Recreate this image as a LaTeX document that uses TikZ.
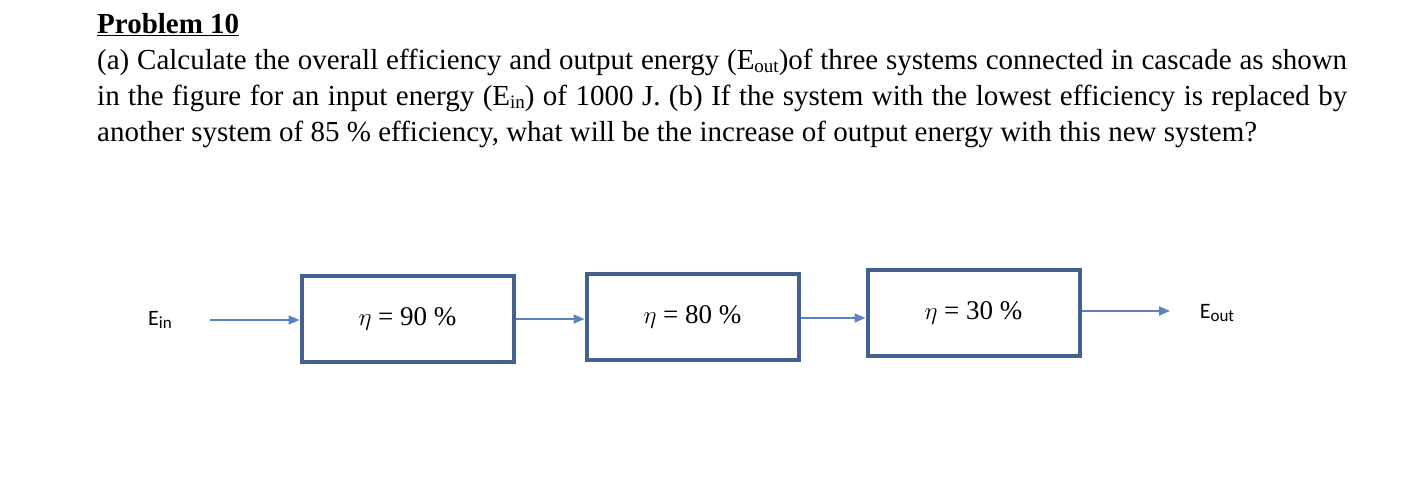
\documentclass[tikz,border=0pt]{standalone}
\usepackage{fontspec}
\setmainfont{Liberation Serif}
\newfontfamily\calib{Carlito}
\usetikzlibrary{arrows.meta}
\definecolor{boxc}{HTML}{44608C}
\definecolor{arrc}{HTML}{5B84BE}
\newcommand{\subx}[1]{\raisebox{-0.12em}{\fontsize{19}{19}\selectfont #1}}
\begin{document}
\begin{tikzpicture}[x=1pt,y=-1pt,
  blk/.style={draw=boxc,line width=4pt,minimum width=212pt,minimum height=86pt,inner sep=0pt,font=\fontsize{27}{27}\selectfont},
  arr/.style={draw=arrc,line width=1.6pt,-{Triangle[length=11pt,width=9pt]}},
  lab/.style={font=\calib\fontsize{22}{22}\selectfont,inner sep=0pt}]
\useasboundingbox (0,0) rectangle (1421,484);
\node[anchor=north west,inner sep=0pt,text width=1250pt,align=justify,font=\fontsize{29}{36}\selectfont] (txt) at (97,13)
{\underline{\textbf{Problem 10}}\\
(a) Calculate the overall efficiency and output energy (E\subx{out})of three systems connected in cascade as shown in the figure for an input energy (E\subx{in}) of 1000 J. (b) If the system with the lowest efficiency is replaced by another system of 85 \% efficiency, what will be the increase of output energy with this new system?};
\node[blk] (b1) at (407.5,318.5) {$\eta$ = 90 \%};
\node[blk] (b2) at (692.5,316.5) {$\eta$ = 80 \%};
\node[blk] (b3) at (973.5,313) {$\eta$ = 30 \%};
\node[lab] (ein) at (160,320) {E\raisebox{-0.1em}{\fontsize{17}{17}\selectfont in}};
\node[lab] (eout) at (1217,313) {E\raisebox{-0.1em}{\fontsize{17}{17}\selectfont out}};
\coordinate (s1) at (210,320);
\coordinate (e4) at (1170,311);
\draw[arr] (s1) -- (b1.west|-s1);
\draw[arr] (b1.east|-0,319) -- (b2.west|-0,319);
\draw[arr] (b2.east|-0,318) -- (b3.west|-0,318);
\draw[arr] (b3.east|-e4) -- (e4);
\end{tikzpicture}
\end{document}
